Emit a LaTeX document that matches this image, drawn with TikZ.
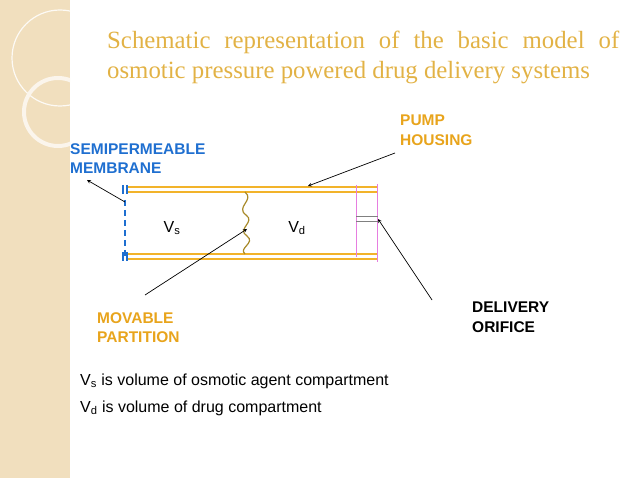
\documentclass[tikz,border=0pt]{standalone}
\usepackage{fontspec}
\setmainfont{Liberation Serif}
\newfontfamily\arialf{Liberation Sans}
\definecolor{ttl}{HTML}{E2B245}
\definecolor{pipe}{HTML}{F2B32A}
\definecolor{bg}{HTML}{F1DFBE}
\definecolor{blu}{HTML}{1F6FD0}
\definecolor{org}{HTML}{E8A41C}
\definecolor{pnk}{HTML}{E67EE0}
\definecolor{wav}{HTML}{A88A2A}
\begin{document}
\begin{tikzpicture}[x=1pt,y=-1pt,
 lab/.style={font=\arialf\bfseries\fontsize{15.5}{19.5}\selectfont,anchor=north west,align=left,inner sep=0},
 txt/.style={font=\arialf\fontsize{16}{18}\selectfont,anchor=west,inner sep=0},
 arr/.style={-stealth,line width=0.7pt},
 pipel/.style={pipe,line width=2.2pt}]
\useasboundingbox (0,0) rectangle (638,478);
\fill[bg] (0,0) rectangle (70,478);
\begin{scope}
\clip (0,0) rectangle (70,478);
\draw[white!85!bg,line width=1.2pt] (60,58) circle (48);
\draw[white!70!bg,line width=4pt] (58,112) circle (34);
\end{scope}
% title
\node[anchor=north west,text width=512pt,align=justify,font=\fontsize{24.8}{30}\selectfont,text=ttl,inner sep=0] (title) at (107,31)
 {Schematic representation of the basic model of\linebreak osmotic pressure powered drug delivery systems\par};
% pipe
\draw[pipel] (128,187) -- (377,187);
\draw[pipel] (128,192) -- (377,192);
\draw[pipel] (128,254) -- (377,254);
\draw[pipel] (128,259) -- (377,259);
\draw[blu,line width=1.4pt,dash pattern=on 6pt off 4pt] (125,200) -- (125,258);
\draw[blu,line width=1.2pt] (123,185) -- (123,194) (127,185) -- (127,194) (123,252) -- (123,261) (127,252) -- (127,261);
\draw[pnk,line width=1pt] (356,185) -- (356,257) (377,184) -- (377,262);
\draw[gray,line width=1pt] (356,217) -- (378,217) (356,222) -- (378,222);
\draw[wav,line width=1.2pt] (245,192) .. controls (255,200) and (235,207) .. (246,215)
 .. controls (256,222) and (236,229) .. (247,236) .. controls (256,243) and (238,248) .. (245,254);
\coordinate (part) at (247,229);
\coordinate (memb) at (125,202);
\coordinate (house) at (308,186);
\coordinate (orif) at (378,219);
\node[font=\arialf\fontsize{16}{18}\selectfont] (vs) at (172,228) {V\textsubscript{s}};
\node[font=\arialf\fontsize{16}{18}\selectfont] (vd) at (297,228) {V\textsubscript{d}};
% labels
\node[lab,text=blu] (sm) at (70,143) {SEMIPERMEABLE\\MEMBRANE};
\node[lab,text=org] (ph) at (400,115) {PUMP\\HOUSING};
\node[lab,text=org] (mp) at (97,312) {MOVABLE\\PARTITION};
\node[lab] (do) at (472,302) {DELIVERY\\ORIFICE};
\coordinate (smE) at (87,180);
\coordinate (phE) at (395,153);
\coordinate (mpE) at (145,295);
\coordinate (doE) at (432,300);
\draw[arr] (memb) -- (smE);
\draw[arr] (phE) -- (house);
\draw[arr] (mpE) -- (part);
\draw[arr] (doE) -- (orif);
\node[txt] (t1) at (80,381) {V\textsubscript{s} is volume of osmotic agent compartment};
\node[txt] (t2) at (80,408) {V\textsubscript{d} is volume of drug compartment};
\end{tikzpicture}
\end{document}
